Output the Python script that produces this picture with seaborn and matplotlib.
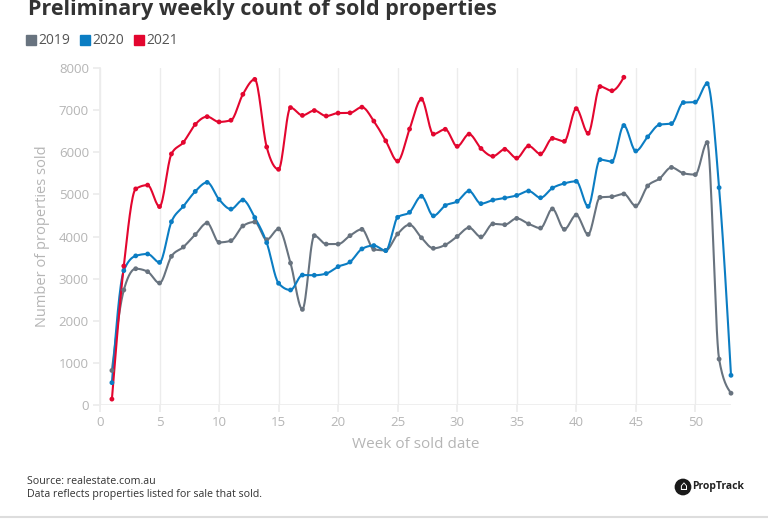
import matplotlib

matplotlib.use("Agg")
import matplotlib.pyplot as plt
import numpy as np
import pandas as pd
import seaborn as sns
from matplotlib.lines import Line2D

# weekly counts
weeks_2019 = list(range(1, 54))
sold_2019 = [
    820, 2730, 3235, 3165, 2895, 3530, 3750, 4045, 4320, 3860,
    3900, 4250, 4345, 3925, 4180, 3370, 2270, 4020, 3820, 3820,
    4020, 4170, 3695, 3670, 4060, 4280, 3970, 3720, 3800, 4000,
    4210, 3990, 4300, 4280, 4430, 4300, 4200, 4655, 4170, 4510,
    4050, 4930, 4945, 5010, 4725, 5200, 5375, 5640, 5500, 5470,
    6230, 1090, 280,
]
weeks_2020 = list(range(1, 54))
sold_2020 = [
    530, 3190, 3540, 3585, 3385, 4350, 4715, 5070, 5285, 4880,
    4650, 4865, 4450, 3855, 2890, 2730, 3085, 3080, 3120, 3285,
    3395, 3705, 3785, 3665, 4455, 4575, 4955, 4490, 4735, 4835,
    5080, 4780, 4865, 4915, 4975, 5080, 4920, 5150, 5260, 5310,
    4715, 5825, 5780, 6635, 6030, 6365, 6655, 6680, 7180, 7190,
    7630, 5160, 705,
]
weeks_2021 = list(range(1, 45))
sold_2021 = [
    140, 3300, 5130, 5220, 4710, 5960, 6235, 6660, 6845, 6720,
    6760, 7375, 7730, 6125, 5595, 7060, 6875, 6990, 6860, 6930,
    6935, 7070, 6740, 6270, 5790, 6550, 7260, 6430, 6545, 6140,
    6430, 6090, 5905, 6070, 5860, 6150, 5960, 6330, 6260, 7035,
    6450, 7560, 7460, 7780,
]
years = ["2019", "2020", "2021"]
colors = {"2019": "#68737f", "2020": "#0b7dc3", "2021": "#e3062f"}
x_ticks = list(range(0, 55, 5))
y_ticks = list(range(0, 8001, 1000))


def monotone_curve(x, y, steps=16):
    """Monotone cubic (d3 monotoneX style) path through the points."""
    x = np.asarray(x, float)
    y = np.asarray(y, float)
    h = np.diff(x)
    s = np.diff(y) / h
    m = np.zeros_like(y)
    for i in range(1, len(y) - 1):
        p = (s[i - 1] * h[i] + s[i] * h[i - 1]) / (h[i - 1] + h[i])
        m[i] = (np.sign(s[i - 1]) + np.sign(s[i])) * min(
            abs(s[i - 1]), abs(s[i]), 0.5 * abs(p)
        )
    m[0] = (3 * s[0] - m[1]) / 2
    m[-1] = (3 * s[-1] - m[-2]) / 2
    xs, ys = [], []
    for i in range(len(y) - 1):
        t = np.linspace(0, 1, steps, endpoint=False)
        h00 = 2 * t**3 - 3 * t**2 + 1
        h10 = t**3 - 2 * t**2 + t
        h01 = -2 * t**3 + 3 * t**2
        h11 = t**3 - t**2
        xs.extend(x[i] + t * h[i])
        ys.extend(h00 * y[i] + h10 * h[i] * m[i] + h01 * y[i + 1] + h11 * h[i] * m[i + 1])
    xs.append(x[-1])
    ys.append(y[-1])
    return xs, ys


points = pd.concat(
    [
        pd.DataFrame({"week": weeks_2019, "sold": sold_2019, "year": "2019"}),
        pd.DataFrame({"week": weeks_2020, "sold": sold_2020, "year": "2020"}),
        pd.DataFrame({"week": weeks_2021, "sold": sold_2021, "year": "2021"}),
    ],
    ignore_index=True,
)
curves = []
for year, group in points.groupby("year"):
    cx, cy = monotone_curve(group["week"], group["sold"])
    curves.append(pd.DataFrame({"week": cx, "sold": cy, "year": year}))
curves = pd.concat(curves, ignore_index=True)

sns.set_theme(style="white")
plt.rcParams["font.family"] = ["Open Sans", "DejaVu Sans"]

figure = plt.figure(figsize=(7.68, 5.19), dpi=100)
axis = figure.add_axes([100 / 768, 1 - 405 / 519, 631 / 768, 337 / 519])

sns.lineplot(
    data=curves, x="week", y="sold", hue="year", hue_order=years,
    palette=colors, sort=False, estimator=None, linewidth=1.5,
    legend=False, ax=axis, zorder=3, clip_on=False,
)
sns.scatterplot(
    data=points, x="week", y="sold", hue="year", hue_order=years,
    palette=colors, s=12, linewidth=0, legend=False, ax=axis, zorder=4,
    clip_on=False,
)

axis.set_xlim(0, 53)
axis.set_ylim(0, 8000)
axis.set_xticks(x_ticks)
axis.set_yticks(y_ticks)
axis.grid(axis="x", color="#ececec", linewidth=1)
axis.axhline(0, color="#ececec", linewidth=1.2, zorder=1)
for side in ["top", "right", "bottom"]:
    axis.spines[side].set_visible(False)
axis.spines["left"].set_color("#ececec")
axis.tick_params(axis="x", length=5, color="#ececec", labelcolor="#b5b5b5",
                 labelsize=9.5, pad=3, bottom=True)
axis.tick_params(axis="y", length=5, color="#ececec", labelcolor="#b5b5b5",
                 labelsize=9.5, pad=3, left=True)
axis.set_xlabel("Week of sold date", color="#b5b5b5", fontsize=11, labelpad=6)
axis.set_ylabel("Number of properties sold", color="#b5b5b5", fontsize=10.5,
                labelpad=6)

figure.text(28 / 768, 1 - 9 / 519, "Preliminary weekly count of sold properties",
            fontsize=15.5, fontweight="bold", color="#333333", va="center")

handles = [
    Line2D([], [], marker="s", linestyle="none", markersize=7.5,
           markerfacecolor=colors[year], markeredgecolor=colors[year])
    for year in years
]
figure.legend(handles, years, loc="center left",
              bbox_to_anchor=(20 / 768, 1 - 41 / 519), ncol=3, frameon=False,
              handletextpad=0.1, columnspacing=0.7, handlelength=0.8,
              prop={"size": 10}, labelcolor="#555555", borderaxespad=0)

figure.text(27 / 768, 1 - 482 / 519, "Source: realestate.com.au",
            fontsize=7.7, color="#333333", va="center")
figure.text(27 / 768, 1 - 494 / 519,
            "Data reflects properties listed for sale that sold.",
            fontsize=7.7, color="#333333", va="center")

# PropTrack badge
figure.text(683 / 768, 1 - 487 / 519, "\u2302", fontsize=9, color="white",
            ha="center", va="center", zorder=3,
            bbox={"boxstyle": "circle,pad=0.15", "fc": "#1a1a1a", "ec": "none"})
figure.text(692 / 768, 1 - 487 / 519, "PropTrack", fontsize=7.5,
            fontweight="bold", color="#222222", va="center")
figure.add_artist(Line2D([0, 1], [1 - 517 / 519] * 2, color="#dddddd",
                         linewidth=1.5, transform=figure.transFigure))

figure.savefig("out.png", dpi=100, facecolor="white")
plt.close(figure)
